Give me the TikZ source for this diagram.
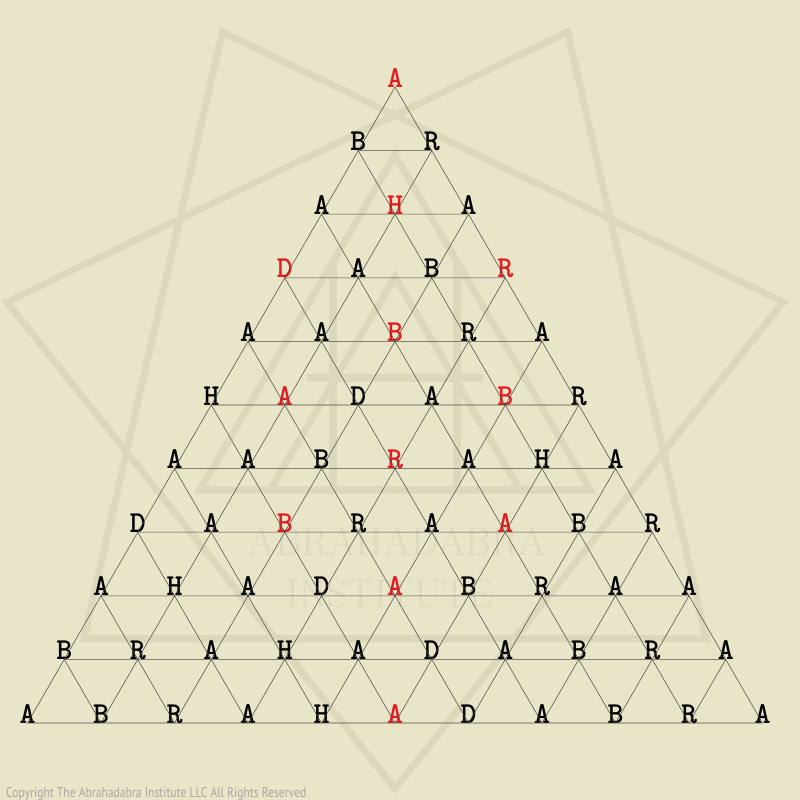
\documentclass[tikz,border=0pt]{standalone}
\usepackage{fontspec}
\newfontfamily\copyfont[FakeStretch=0.82]{PT Sans}
\definecolor{parch}{HTML}{E9E5C9}
\definecolor{faint}{HTML}{DCD8BB}
\definecolor{marktext}{HTML}{DEDAC0}
\definecolor{abred}{RGB}{226,28,32}
\definecolor{grid}{HTML}{4A4A42}
\definecolor{note}{HTML}{A8A79E}
\newcommand{\hl}[1]{\textcolor{abred}{#1}}
\tikzset{
  letter/.style={anchor=base, inner sep=0pt, font=\ttfamily\bfseries\fontsize{26}{26}\selectfont},
  edge/.style={draw=grid, line width=0.45pt},
  watermark/.style={draw=faint, line width=6pt, line join=miter},
  marklabel/.style={anchor=base, inner sep=0pt, text=marktext, font=\fontsize{34}{34}\selectfont},
}
\begin{document}
\begin{tikzpicture}[x=0.03cm, y=-0.03cm]
  \fill[parch] (0,0) rectangle (800,800);
  \useasboundingbox (0,0) rectangle (800,800);
  \foreach \k in {0,...,6}
    \coordinate (h\k) at ({395+398*cos(270+\k*360/7)},{390.6-398*sin(270+\k*360/7)});
  \draw[watermark] (h0) -- (h2) -- (h4) -- (h6) -- (h1) -- (h3) -- (h5) -- cycle;
  \draw[watermark] (395,155) -- (200,490) -- (590,490) -- cycle;
  \draw[watermark] (333,262) -- (333,490) (457,262) -- (457,490);
  \draw[watermark] (307,378) -- (483,378);
  \draw[watermark] (270,490) -- (395,277) -- (520,490);
  \node[marklabel] (mark-top) at (397,555) {ABRAHADABRA};
  \node[marklabel] (mark-bottom) at (390,607) {INSTITUTE};
  \foreach \row [count=\r from 0] in {{\hl{A}},{B,R},{A,\hl{H},A},{\hl{D},A,B,\hl{R}},{A,A,\hl{B},R,A},{H,\hl{A},D,A,\hl{B},R},{A,A,B,\hl{R},A,H,A},{D,A,\hl{B},R,A,\hl{A},B,R},{A,H,A,D,\hl{A},B,R,A,A},{B,R,A,H,A,D,A,B,R,A},{A,B,R,A,H,\hl{A},D,A,B,R,A}}
    \foreach \ltr [count=\c from 0] in \row
      \node[letter] (n-\r-\c) at ({395+(\c-\r/2)*73.5},{87+\r*63.6}) {\ltr};
  \foreach \r in {0,...,9}
    \foreach \c in {0,...,\r} {
      \pgfmathtruncatemacro\rr{\r+1}
      \pgfmathtruncatemacro\cc{\c+1}
      \draw[edge] (n-\r-\c.base) -- (n-\rr-\c.base) -- (n-\rr-\cc.base) -- cycle;
    }
  \node[anchor=base west, inner sep=0pt, text=note, font=\copyfont\fontsize{12.1}{12.1}\selectfont] (copyright) at (6,797) {Copyright The Abrahadabra Institute LLC All Rights Reserved};
\end{tikzpicture}
\end{document}
